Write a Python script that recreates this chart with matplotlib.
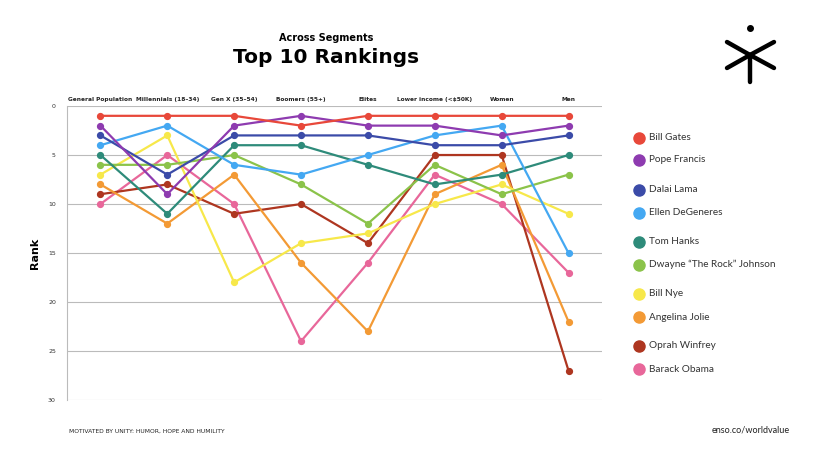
import numpy as np
import matplotlib.pyplot as plt
from matplotlib.lines import Line2D

# segments along the x axis
segments = ["General Population", "Millennials (18–34)", "Gen X (35–54)", "Boomers (55+)",
            "Elites", "Lower income (<$50K)", "Women", "Men"]

# rank of each person in each segment
names = ["Bill Gates", "Pope Francis", "Dalai Lama", "Ellen DeGeneres", "Tom Hanks",
         "Dwayne \u201cThe Rock\u201d Johnson", "Bill Nye", "Angelina Jolie",
         "Oprah Winfrey", "Barack Obama"]
bill_gates   = [1, 1, 1, 2, 1, 1, 1, 1]
pope_francis = [2, 9, 2, 1, 2, 2, 3, 2]
dalai_lama   = [3, 7, 3, 3, 3, 4, 4, 3]
ellen        = [4, 2, 6, 7, 5, 3, 2, 15]
tom_hanks    = [5, 11, 4, 4, 6, 8, 7, 5]
the_rock     = [6, 6, 5, 8, 12, 6, 9, 7]
bill_nye     = [7, 3, 18, 14, 13, 10, 8, 11]
jolie        = [8, 12, 7, 16, 23, 9, 6, 22]
oprah        = [9, 8, 11, 10, 14, 5, 5, 27]
obama        = [10, 5, 10, 24, 16, 7, 10, 17]
ranks = [bill_gates, pope_francis, dalai_lama, ellen, tom_hanks,
         the_rock, bill_nye, jolie, oprah, obama]

colors = ["#E8483A", "#8E3BB0", "#3B4BA8", "#44A8F2", "#2E8B7A",
          "#8BC34A", "#F7E84A", "#F39A35", "#AE3620", "#E8679A"]

fig = plt.figure(figsize=(8.13, 4.57), dpi=100)
ax = fig.add_axes([0.0824, 0.1247, 0.658, 0.6433])

x = np.arange(len(segments))
# draw in reverse so the top ranks sit on top
for i in range(len(names) - 1, -1, -1):
    ax.plot(x, ranks[i], color=colors[i], lw=1.6, marker="o", ms=4.2, zorder=3 + (10 - i) * 0.01)

ax.set_xlim(-0.5, 7.5)
ax.set_ylim(30, 0)
ax.set_yticks([0, 5, 10, 15, 20, 25, 30])
ax.tick_params(axis="y", length=0, labelsize=4.5, labelcolor="#333333", pad=8)
ax.set_xticks(x)
ax.set_xticklabels(segments, fontsize=4.2, fontweight="bold", color="#222222")
ax.xaxis.tick_top()
ax.tick_params(axis="x", length=0, pad=3)
for s in ["top", "right", "bottom"]:
    ax.spines[s].set_visible(False)
ax.spines["left"].set_color("#bbbbbb")
ax.spines["left"].set_linewidth(0.8)
ax.grid(axis="y", color="#bbbbbb", lw=0.8)
ax.set_axisbelow(True)
ax.set_ylabel("Rank", fontsize=8, fontweight="bold", labelpad=6)

# titles
fig.text(0.401, 0.917, "Across Segments", ha="center", va="center", fontsize=7, fontweight="bold")
fig.text(0.401, 0.875, "Top 10 Rankings", ha="center", va="center", fontsize=14.5, fontweight="bold")

# legend, grouped in pairs
leg_y = [137.5, 160, 190, 212.5, 242, 264.5, 294, 317, 346, 369]
for i, name in enumerate(names):
    yy = 1 - leg_y[i] / 457
    fig.add_artist(Line2D([639 / 813], [yy], marker="o", ms=8, color=colors[i], lw=0))
    fig.text(649 / 813, yy, name, va="center", ha="left", fontsize=7.2, family="Lato", color="#333333")

# logo
lx = np.array([727, 774, 750, 727, 774, 750]) / 813
ly = 1 - np.array([42, 42, 55, 68, 68, 82]) / 457
cx, cy = 750 / 813, 1 - 55 / 457
for k in [0, 1, 3, 4, 5]:
    fig.add_artist(Line2D([cx, lx[k]], [cy, ly[k]], color="black", lw=3.2, solid_capstyle="round"))
fig.add_artist(Line2D([cx], [1 - 28 / 457], marker="o", ms=4, color="black", lw=0))

# footer
fig.text(69 / 813, 1 - 431 / 457, "MOTIVATED BY UNITY: HUMOR, HOPE AND HUMILITY",
         fontsize=4.3, va="center", ha="left", color="#222222")
fig.text(790 / 813, 1 - 430 / 457, "enso.co/worldvalue", fontsize=6.5, va="center",
         ha="right", family="Lato", color="#222222")

fig.savefig("out.png", dpi=100)
